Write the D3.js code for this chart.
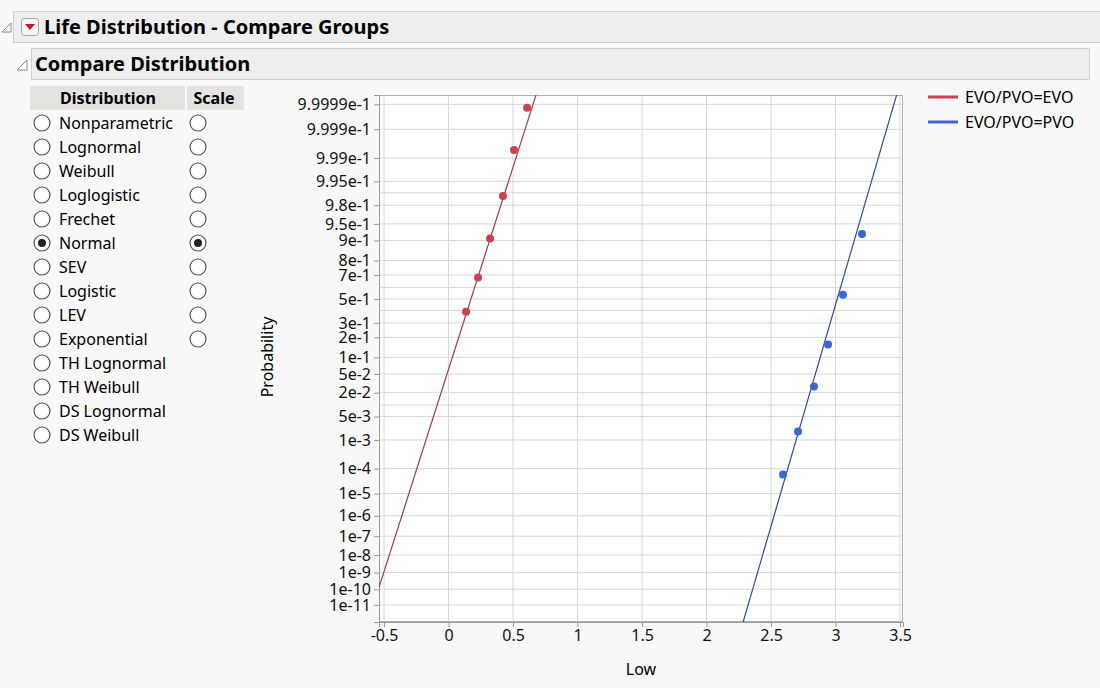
<!DOCTYPE html>
<html><head><meta charset="utf-8">
<script src="https://cdn.jsdelivr.net/npm/d3@7"></script>
<style>body{margin:0;background:#f8f8f8;font-family:"Noto Sans",sans-serif;}</style>
</head><body><svg id="c" width="1100" height="688"></svg>
<script>
const distributions=["Nonparametric","Lognormal","Weibull","Loglogistic","Frechet","Normal","SEV","Logistic","LEV","Exponential","TH Lognormal","TH Weibull","DS Lognormal","DS Weibull"];
const scaleCount=10, selectedDist="Normal";
const xTicks=[-0.5,0,0.5,1,1.5,2,2.5,3,3.5];
const yTickLabels=["9.9999e-1","9.999e-1","9.99e-1","9.95e-1","9.8e-1","9.5e-1","9e-1","8e-1","7e-1","5e-1","3e-1","2e-1","1e-1","5e-2","2e-2","5e-3","1e-3","1e-4","1e-5","1e-6","1e-7","1e-8","1e-9","1e-10","1e-11"];
const yMinor=[0.99,0.4,0.6,0.01];
const seriesNames=["EVO/PVO=EVO","EVO/PVO=PVO"];
const evoX=[0.136,0.229,0.322,0.422,0.508,0.609];
const evoP=[0.39,0.68,0.907,0.988,0.99945,0.999986];
const pvoX=[2.593,2.709,2.833,2.942,3.058,3.205];
const pvoP=[0.00006,0.00184,0.0275,0.159,0.537,0.923];
const fits=[{mu:0.174,sigma:0.1128},{mu:3.013,sigma:0.103}];
const dotColors=["#d0404f","#3b66d6"], lineColors=["#a03a48","#2e4c9e"];

function probit(p){const a=[-39.6968302866538,220.946098424521,-275.928510446969,138.357751867269,-30.6647980661472,2.50662827745924],b=[-54.4760987982241,161.585836858041,-155.698979859887,66.8013118877197,-13.2806815528857],c=[-0.00778489400243029,-0.322396458041136,-2.40075827716184,-2.54973253934373,4.37466414146497,2.93816398269878],d=[0.00778469570904146,0.32246712907004,2.445134137143,3.75440866190742];const pl=0.02425;let q,r;
if(p<pl){q=Math.sqrt(-2*Math.log(p));return(((((c[0]*q+c[1])*q+c[2])*q+c[3])*q+c[4])*q+c[5])/((((d[0]*q+d[1])*q+d[2])*q+d[3])*q+1);}
if(p>1-pl){q=Math.sqrt(-2*Math.log(1-p));return-(((((c[0]*q+c[1])*q+c[2])*q+c[3])*q+c[4])*q+c[5])/((((d[0]*q+d[1])*q+d[2])*q+d[3])*q+1);}
q=p-0.5;r=q*q;return(((((a[0]*r+a[1])*r+a[2])*r+a[3])*r+a[4])*r+a[5])*q/(((((b[0]*r+b[1])*r+b[2])*r+b[3])*r+b[4])*r+1);}

const svg=d3.select("#c");
// header bars
svg.append("rect").attr("x",13.5).attr("y",11.5).attr("width",1090).attr("height",31).attr("fill","#eeeeee").attr("stroke","#cfcfcf");
svg.append("path").attr("d","M2,32 L11,23 L11,32 Z").attr("fill","#fff").attr("stroke","#888");
svg.append("rect").attr("x",21.5).attr("y",18.5).attr("width",17).attr("height",17).attr("rx",3).attr("fill","#f4f4f4").attr("stroke","#aaa");
svg.append("path").attr("d","M25,24 L35,24 L30,30 Z").attr("fill","#d01020");
svg.append("text").attr("x",44).attr("y",34).attr("font-size",20).attr("font-weight","bold").text("Life Distribution - Compare Groups");
svg.append("rect").attr("x",31.5).attr("y",48.5).attr("width",1058).attr("height",31).attr("fill","#eeeeee").attr("stroke","#cfcfcf");
svg.append("path").attr("d","M17,70 L27,60 L27,70 Z").attr("fill","#fff").attr("stroke","#888");
svg.append("text").attr("x",35).attr("y",71).attr("font-size",20).attr("font-weight","bold").text("Compare Distribution");
// table
svg.append("rect").attr("x",30).attr("y",86).attr("width",155).attr("height",24).attr("fill","#e3e3e0");
svg.append("rect").attr("x",187).attr("y",86).attr("width",57).attr("height",24).attr("fill","#e3e3e0");
svg.append("text").attr("x",108).attr("y",104).attr("text-anchor","middle").attr("font-size",16).attr("font-weight","bold").text("Distribution");
svg.append("text").attr("x",214).attr("y",104).attr("text-anchor","middle").attr("font-size",16).attr("font-weight","bold").text("Scale");
distributions.forEach((d,i)=>{const y=123+i*24;
 svg.append("circle").attr("cx",42).attr("cy",y).attr("r",8).attr("fill","#fff").attr("stroke","#555").attr("stroke-width",1.2);
 if(d===selectedDist)svg.append("circle").attr("cx",42).attr("cy",y).attr("r",4).attr("fill","#222");
 svg.append("text").attr("x",59).attr("y",y+6).attr("font-size",16).text(d);
 if(i<scaleCount){svg.append("circle").attr("cx",198).attr("cy",y).attr("r",8).attr("fill","#fff").attr("stroke","#555").attr("stroke-width",1.2);
  if(d===selectedDist)svg.append("circle").attr("cx",198).attr("cy",y).attr("r",4).attr("fill","#222");}
});
// plot
const L=379,R=903,T=95,B=622;
const x=d3.scaleLinear().domain([-0.539,3.523]).range([L,R]);
const y=d3.scaleLinear().domain([-7.08,4.47]).range([B,T]);
svg.append("rect").attr("x",L).attr("y",T).attr("width",R-L).attr("height",B-T).attr("fill","#fff");
const g=svg.append("g");
xTicks.forEach(t=>g.append("line").attr("x1",x(t)).attr("x2",x(t)).attr("y1",T).attr("y2",B).attr("stroke","#d8d8d8"));
yTickLabels.concat(yMinor.map(String)).forEach(t=>{const yy=y(probit(+t));g.append("line").attr("x1",L).attr("x2",R).attr("y1",yy).attr("y2",yy).attr("stroke","#d8d8d8");});
svg.append("rect").attr("x",L+0.5).attr("y",T+0.5).attr("width",R-L-1).attr("height",B-T-1).attr("fill","none").attr("stroke","#b0b0b0");
const xa=svg.append("g").attr("transform",`translate(0,${B})`).call(d3.axisBottom(x).tickValues(xTicks).tickFormat(d=>String(d)).tickSize(5));
xa.selectAll("text").attr("font-size",16).attr("fill","#111").attr("font-family","Noto Sans");
xa.select(".domain").attr("stroke","#999");xa.selectAll("line").attr("stroke","#999");
const yv=yTickLabels.map(t=>probit(+t));
const ya=svg.append("g").attr("transform",`translate(${L},0)`).call(d3.axisLeft(y).tickValues(yv).tickFormat((d,i)=>yTickLabels[i]).tickSize(5));
ya.selectAll("text").attr("font-size",16).attr("fill","#111").attr("font-family","Noto Sans");
ya.select(".domain").attr("stroke","#999");ya.selectAll("line").attr("stroke","#999");
svg.append("text").attr("transform","translate(273,357) rotate(-90)").attr("text-anchor","middle").attr("font-size",16).text("Probability");
svg.append("text").attr("x",641).attr("y",675).attr("text-anchor","middle").attr("font-size",16).text("Low");
const clip=svg.append("clipPath").attr("id","cp").append("rect").attr("x",L).attr("y",T).attr("width",R-L).attr("height",B-T);
const pg=svg.append("g").attr("clip-path","url(#cp)");
[[evoX,evoP],[pvoX,pvoP]].forEach(([xs,ps],k)=>{const f=fits[k];
 const x0=-0.6,x1=3.6;
 pg.append("line").attr("x1",x(x0)).attr("y1",y((x0-f.mu)/f.sigma)).attr("x2",x(x1)).attr("y2",y((x1-f.mu)/f.sigma)).attr("stroke",lineColors[k]).attr("stroke-width",1.2);
 xs.forEach((v,i)=>pg.append("circle").attr("cx",x(v)).attr("cy",y(probit(ps[i]))).attr("r",4).attr("fill",dotColors[k]));
});
seriesNames.forEach((n,i)=>{const yy=97+i*25;
 svg.append("line").attr("x1",928).attr("x2",958).attr("y1",yy).attr("y2",yy).attr("stroke",dotColors[i]).attr("stroke-width",3);
 svg.append("text").attr("x",965).attr("y",yy+6).attr("font-size",16).text(n);});
</script></body></html>
